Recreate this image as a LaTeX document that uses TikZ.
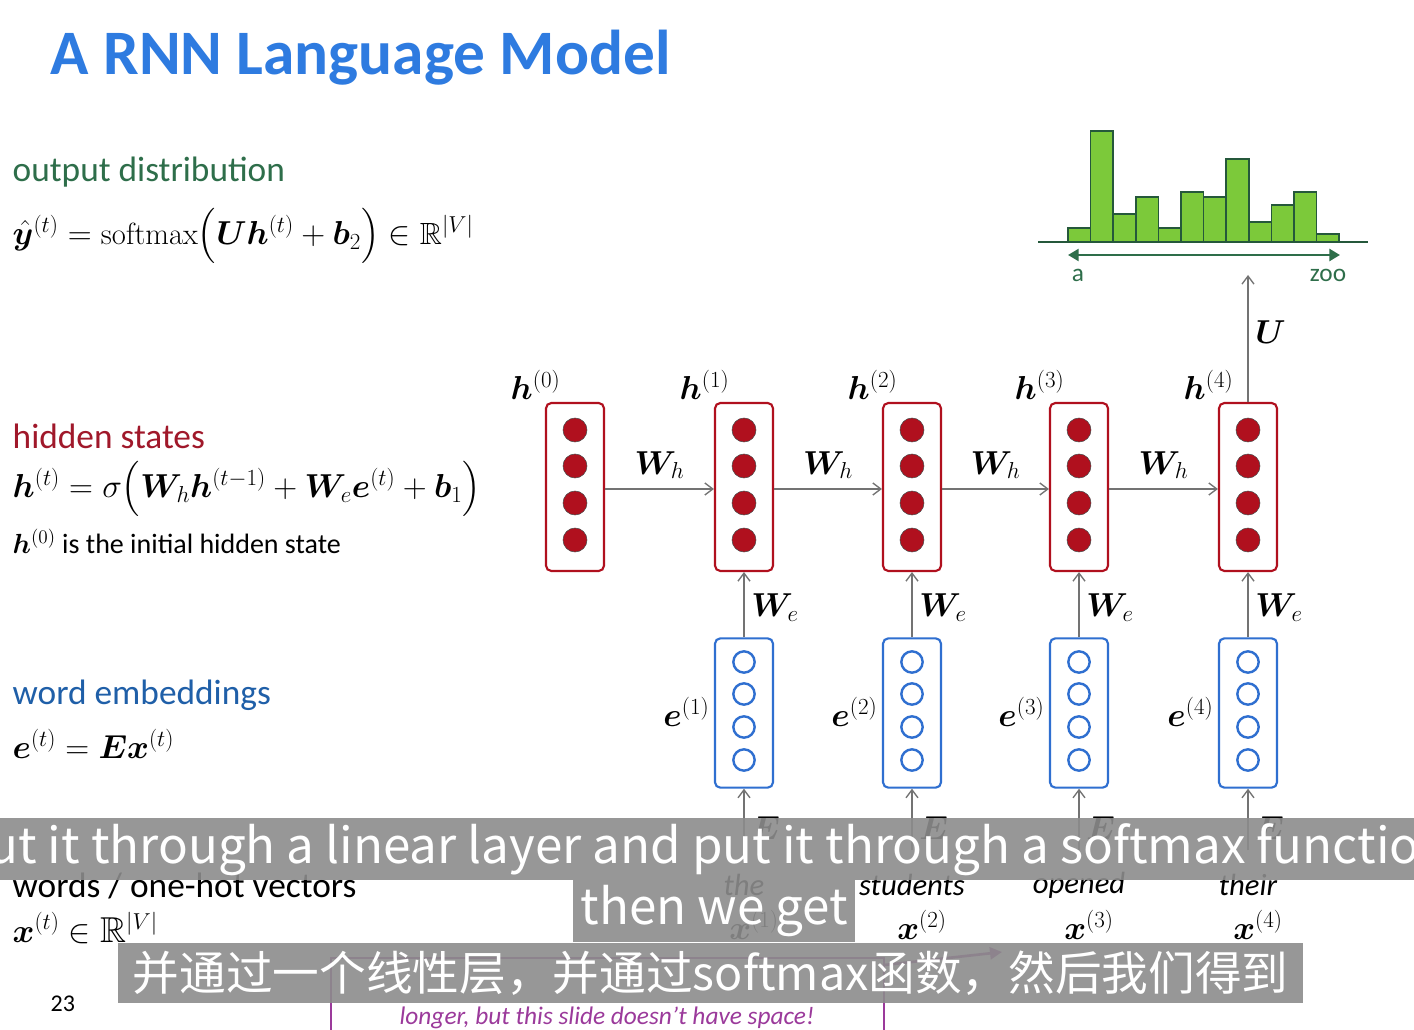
\documentclass[tikz,border=0pt]{standalone}
\usepackage{amsmath,amssymb,bm}
\usepackage{fontspec}
\setmainfont{Carlito}
\newfontfamily\cjk{Noto Sans CJK SC}
\newfontfamily\lmr{Latin Modern Roman}
\usetikzlibrary{arrows.meta}
\definecolor{tblue}{HTML}{2E7BE0}
\definecolor{dgreen}{HTML}{2E6E4A}
\definecolor{dred}{HTML}{A0182A}
\definecolor{dblue}{HTML}{1F5FA8}
\definecolor{hred}{HTML}{B0101E}
\definecolor{eblue}{HTML}{2F6FD0}
\definecolor{bgreen}{HTML}{7CC93A}
\definecolor{purp}{HTML}{9B3A9B}
\tikzset{
 hbox/.style={draw=hred,line width=1.6pt,rounded corners=4pt,fill=white,minimum width=43.5pt,minimum height=126pt},
 ebox/.style={draw=eblue,line width=1.6pt,rounded corners=4pt,fill=white,minimum width=43.5pt,minimum height=112pt},
 hdot/.style={circle,fill=hred,draw=black!70,inner sep=0pt,minimum size=18pt},
 edot/.style={circle,fill=white,draw=eblue,line width=1.8pt,inner sep=0pt,minimum size=16pt},
 arr/.style={-{Straight Barb[length=6pt,width=9pt]},draw=black!55,line width=1pt},
 ml/.style={font=\fontsize{24}{28}\selectfont,inner sep=1pt},
 lab/.style={anchor=west,font=\fontsize{26.5}{30}\selectfont},
 sub/.style={fill=black!45,opacity=0.9,text opacity=1,text=white,inner sep=0pt},
}
\begin{document}
\begin{tikzpicture}[x=0.75pt,y=-0.75pt]
\useasboundingbox (0,0) rectangle (1414,1030);
\fill[white] (0,0) rectangle (1414,1030);
\node[anchor=west,text=tblue,font=\fontsize{47.5}{52}\selectfont\bfseries] (title) at (46,58) {A RNN Language Model};
% left texts
\node[lab,text=dgreen] (od) at (8,172) {output distribution};
\node[anchor=west,font=\fontsize{23}{26}\selectfont] (eq1) at (8,236) {$\hat{\bm y}^{(t)}=\text{\lmr softmax}\Bigl(\bm U\bm h^{(t)}+\bm b_2\Bigr)\in\mathbb R^{|V|}$};
\node[lab,text=dred] (hs) at (8,436) {hidden states};
\node[anchor=west,font=\fontsize{23}{26}\selectfont] (eq2) at (8,489) {$\bm h^{(t)}=\sigma\Bigl(\bm W_h\bm h^{(t-1)}+\bm W_e\bm e^{(t)}+\bm b_1\Bigr)$};
\node[anchor=west,font=\fontsize{21}{24}\selectfont] (eq3) at (8,541) {$\bm h^{(0)}$ is the initial hidden state};
\node[lab,text=dblue] (we) at (8,695) {word embeddings};
\node[anchor=west,font=\fontsize{27}{30}\selectfont] (eq4) at (8,744) {$\bm e^{(t)}=\bm E\bm x^{(t)}$};
\node[lab] (wo) at (8,886) {words / one-hot vectors};
\node[anchor=west,font=\fontsize{27}{30}\selectfont] (eq5) at (8,928) {$\bm x^{(t)}\in\mathbb R^{|V|}$};
\node[anchor=west,font=\fontsize{18}{22}\selectfont] (pg) at (46,1004) {23};
% hidden
\foreach \i/\x in {0/575,1/744,2/912,3/1079,4/1248}{
 \node[hbox] (h\i) at (\x,487) {};
 \foreach \k/\yy in {1/430,2/466,3/503,4/540} \node[hdot] (hd\i\k) at (\x,\yy) {};
 \node[ml,anchor=east] (hl\i) at (\x-13,385) {$\bm h^{(\i)}$};
}
\foreach \a/\b in {0/1,1/2,2/3,3/4}{
 \draw[arr] (h\a.east|-0,489) -- node[ml,above=6pt] (wh\a) {$\bm W_h$} (h\b.west|-0,489);
}
\foreach \i/\x/\w in {1/744/the,2/912/students,3/1079/opened,4/1248/their}{
 \node[ebox] (e\i) at (\x,713) {};
 \foreach \k/\yy in {1/662,2/694,3/727,4/760} \node[edot] (ed\i\k) at (\x,\yy) {};
 \draw[arr] (e\i) -- node[ml,right=4pt,pos=0.45] (wel\i) {$\bm W_e$} (h\i);
 \node[ml,anchor=east] (el\i) at (\x-33,712) {$\bm e^{(\i)}$};
 \node[ml,font=\fontsize{23}{26}\selectfont\itshape] (w\i) at (\x,885) {\w};
 \node[ml] (x\i) at (\x+10,925) {$\bm x^{(\i)}$};
 \coordinate (ef\i) at (\x,850);
 \draw[arr] (ef\i) -- node[ml,right=4pt,pos=0.35] (El\i) {$\bm E$} (e\i);
}
% distribution
\coordinate (u) at (1248,275);
\draw[arr] (h4) -- node[ml,right=4pt,pos=0.55] (Ul) {$\bm U$} (u);
\foreach \t [count=\n from 0] in {228,131,214,197,228,192,197,159,222,205,192,234}{
 \draw[fill=bgreen,draw=dgreen!80!black,line width=1.2pt] (1068+22.6*\n,242) rectangle (1068+22.6*\n+22.6,\t);
}
\draw[dgreen!80!black,line width=2pt] (1038,242) -- (1368,242);
\coordinate (da) at (1068,255);\coordinate (dz) at (1340,255);
\draw[{Triangle[length=8pt,width=9pt]}-{Triangle[length=8pt,width=9pt]},dgreen,line width=1.8pt] (da) -- (dz);
\node[text=dgreen,font=\fontsize{19}{20}\selectfont] (la) at (1078,275) {a};
\node[text=dgreen,font=\fontsize{19}{20}\selectfont] (lz) at (1328,275) {zoo};
% purple note
\draw[purp,line width=2pt] (331,958) rectangle (884,1040);
\node[text=purp,font=\fontsize{19}{20}\selectfont\itshape] (pn) at (607,1018) {longer, but this slide doesn't have space!};
\draw[purp,line width=2pt,-{Triangle[length=9pt,width=9pt]}] (884,965) -- (1002,952);
% subtitles
\node[sub,anchor=north west,minimum width=1414*0.75pt,minimum height=46.5pt,font=\cjk\fontsize{37}{40}\selectfont] (s1) at (0,818) {\hspace{-9pt}ut it through a linear layer and put it through a softmax functio\hss};
\node[sub,anchor=north west,minimum width=282*0.75pt,minimum height=46.5pt,font=\cjk\fontsize{37}{40}\selectfont] (s2) at (573,880) {then we get};
\node[sub,anchor=north west,minimum width=1185*0.75pt,minimum height=45pt,font=\cjk\fontsize{35}{40}\selectfont] (s3) at (118,943) {并通过一个线性层，并通过softmax函数，然后我们得到};
\end{tikzpicture}
\end{document}
